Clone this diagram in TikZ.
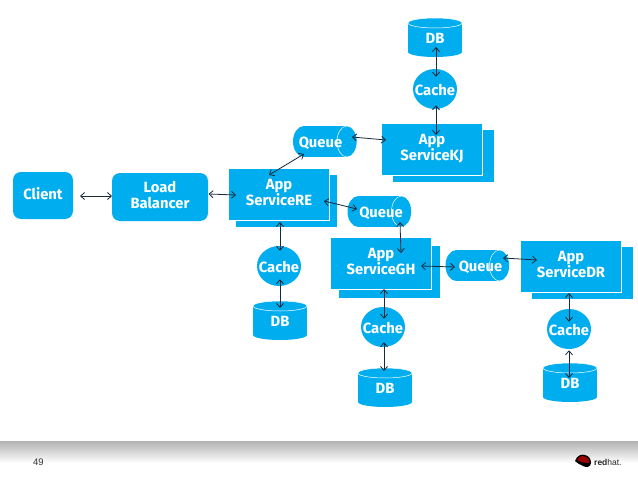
\documentclass[tikz,border=0pt]{standalone}
\usepackage{fontspec}
\setmainfont{Liberation Sans}
\newfontfamily\boxfont{Fira Sans}[UprightFont=* Bold]
\usetikzlibrary{arrows.meta,calc}
\definecolor{boxblue}{HTML}{00ADEF}
\definecolor{arrowink}{HTML}{1A2A3A}
\tikzset{
  lbl/.style={font=\boxfont\fontsize{14.8}{16}\selectfont,text=white,align=center,inner sep=0pt,outer sep=0pt},
  liftup/.style={execute at end node={\rule[-4pt]{0pt}{4pt}}},
  roundbox/.style={lbl,liftup,fill=boxblue,rounded corners=8pt,minimum height=47pt},
  appback/.style={fill=boxblue,inner sep=0pt,minimum width=101pt,minimum height=52pt},
  appbox/.style={lbl,liftup,fill=boxblue,draw=white,line width=0.5pt,minimum width=101pt,minimum height=52pt},
  cachebox/.style={lbl,execute at end node={\rule{0pt}{13pt}},minimum width=44pt,minimum height=40pt,
    path picture={
      \fill[boxblue] (path picture bounding box.center) ellipse [x radius=22pt,y radius=20pt];
    }},
  dbbox/.style={lbl,execute at end node={\rule{0pt}{11.5pt}},minimum width=54pt,minimum height=39pt,
    path picture={
      \fill[boxblue] ($(path picture bounding box.north)+(0,5)$) ellipse [x radius=27pt,y radius=5pt];
      \fill[boxblue] ($(path picture bounding box.south)+(0,-5)$) ellipse [x radius=27pt,y radius=5pt];
      \fill[boxblue] ($(path picture bounding box.north west)+(0,5)$) rectangle ($(path picture bounding box.south east)+(0,-5)$);
      \draw[rim] ($(path picture bounding box.north)+(0,5)$) ellipse [x radius=27pt,y radius=5pt];
    }},
  queuebox/.style={lbl,minimum width=64pt,minimum height=31pt,
    execute at end node={\rule{0pt}{13.5pt}},
    path picture={
      \fill[boxblue] ($(path picture bounding box.west)+(11,0)$) ellipse [x radius=11pt,y radius=15.5pt];
      \fill[boxblue] ($(path picture bounding box.east)+(-10,0)$) ellipse [x radius=10pt,y radius=15.5pt];
      \fill[boxblue] ($(path picture bounding box.north west)+(11,0)$) rectangle ($(path picture bounding box.south east)+(-10,0)$);
      \draw[rim] ($(path picture bounding box.east)+(-10,0)$) ellipse [x radius=10pt,y radius=15.5pt];
    }},
  link/.style={draw=arrowink,line width=0.8pt,{Straight Barb[length=4pt,width=7pt]}-{Straight Barb[length=4pt,width=7pt]}},
  rim/.style={draw=white,line width=0.5pt},
}
\begin{document}
\begin{tikzpicture}[x=1pt,y=-1pt]
\useasboundingbox (0,0) rectangle (638,479);
\fill[white] (0,0) rectangle (638,479);
% footer band
\shade[top color=black!30,bottom color=white] (0,441) rectangle (638,463);
\node[font=\fontsize{9.5}{11}\selectfont,text=black!80,inner sep=0pt] (pg) at (38.5,462) {49};
% logo
\fill[black] (575,461) .. controls (577,455) and (582,454) .. (585,455) .. controls (589,456) and (591,459) .. (591,463) .. controls (591,467) and (586,468) .. (583,466) .. controls (579,464) and (577,463) .. (575,461) -- cycle;
\fill[red!60!black] (577,460) .. controls (579,456) and (583,455) .. (586,457) .. controls (589,459) and (590,461) .. (589,463) .. controls (585,463) and (580,462) .. (577,460) -- cycle;
\node[font=\fontsize{8.5}{10}\selectfont,text=black!85,inner sep=0pt,anchor=west] (rh) at (594,462) {\textbf{red}hat.};

\node[roundbox,minimum width=60pt] (client) at (43,195.5) {Client};
\node[roundbox,minimum width=96pt,minimum height=48pt] (lb) at (160,197) {Load\\Balancer};

% App boxes
\node[appback] (reb) at (286,201) {};
\node[appbox] (re) at (279,194.5) {App\\ServiceRE};
\node[appback] (kjb) at (443,155.5) {};
\node[appbox] (kj) at (432,149) {App\\ServiceKJ};
\node[appback] (ghb) at (389.5,271.5) {};
\node[appbox] (gh) at (381,263) {App\\ServiceGH};
\node[appback] (drb) at (582,272.5) {};
\node[appbox] (dr) at (571,266) {App\\ServiceDR};

% Caches
\node[cachebox] (cre) at (279,266) {Cache};
\node[cachebox] (ckj) at (435,89) {Cache};
\node[cachebox] (cgh) at (383,327) {Cache};
\node[cachebox] (cdr) at (569,329) {Cache};

% DBs
\node[dbbox] (dre) at (280,320.5) {DB};
\node[dbbox] (dkj) at (435,37.5) {DB};
\node[dbbox] (dgh) at (385,387.5) {DB};
\node[dbbox] (ddr) at (570,382.5) {DB};

% Queues
\node[queuebox] (qkj) at (325,141.5) {Queue\kern9pt};
\node[queuebox] (qre) at (379.5,211.5) {\leavevmode\kern3pt Queue};
\node[queuebox] (qgh) at (477.5,265.5) {\leavevmode\kern6pt Queue};

% connectors
\draw[link] ([shift={(7,.5)}]client.east) -- ([shift={(0,-1)}]lb.west);
\draw[link] ([shift={(.5,-3)}]lb.east) -- ([shift={(7.5,.5)}]re.west);
\draw[link] ([shift={(-10,6.5)}]re.north) -- ([shift={(-21,12.5)}]qkj.center);
\draw[link] ([shift={(-5.5,6.5)}]re.east) -- ([shift={(-22.5,-2.5)}]qre.center);
\draw[link] ([shift={(20.5,10.5)}]qre.center) -- ([shift={(20,-10)}]gh.center);
\draw[link] ([shift={(1,1.5)}]re.south) -- ([shift={(1,4.75)}]cre.north);
\draw[link] ([shift={(1,-6.75)}]cre.south) -- ([shift={(0,-12.5)}]dre.center);
\draw[link] ([shift={(1,9.5)}]dkj.center) -- ([shift={(1,7.75)}]ckj.north);
\draw[link] ([shift={(1,-3.75)}]ckj.south) -- ([shift={(4,-14)}]kj.center);
\draw[link] ([shift={(27,-4.5)}]qkj.center) -- ([shift={(4.5,-9)}]kj.west);
\draw[link] ([shift={(-10.5,3)}]gh.east) -- ([shift={(-22.5,1.5)}]qgh.center);
\draw[link] ([shift={(25.5,-7.5)}]qgh.center) -- ([shift={(16.5,-6)}]dr.west);
\draw[link] ([shift={(3,0)}]gh.south) -- ([shift={(1,11.75)}]cgh.north);
\draw[link] ([shift={(1,-4.75)}]cgh.south) -- ([shift={(-1,-16.5)}]dgh.center);
\draw[link] ([shift={(-2,1)}]dr.south) -- ([shift={(0,12.75)}]cdr.north);
\draw[link] ([shift={(0,1.25)}]cdr.south) -- ([shift={(-1,-4.5)}]ddr.center);
\end{tikzpicture}
\end{document}
